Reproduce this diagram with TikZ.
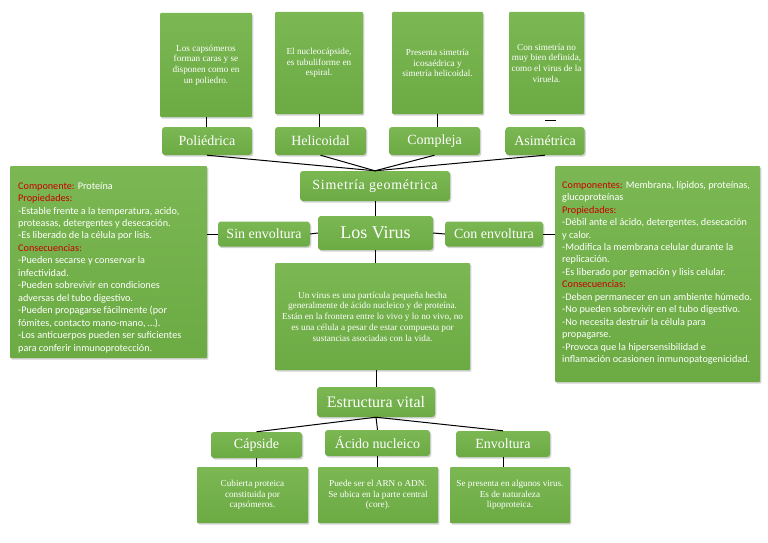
\documentclass[tikz,border=0pt]{standalone}
\usepackage{fontspec}
\setmainfont{Liberation Serif}
\newfontfamily\sidefont{Carlito}
\usetikzlibrary{shadows}
\definecolor{vgreen}{HTML}{6CAA44}
\definecolor{vgreenlight}{HTML}{7BB853}
\definecolor{vred}{HTML}{C80000}
\begin{document}
\begin{tikzpicture}[x=1pt,y=-1pt,
  gbox/.style={draw=none, top color=vgreenlight, bottom color=vgreen, text=white,
    drop shadow={shadow xshift=1.3pt, shadow yshift=-1.6pt, opacity=0.35},
    inner sep=0pt, align=center},
  lbl/.style={gbox, rounded corners=3pt, font=\fontsize{14}{16}\selectfont},
  txtbox/.style={gbox, rounded corners=1pt, font=\fontsize{9.2}{10.7}\selectfont},
  sidetxt/.style={text=white, inner sep=0pt, align=left, anchor=north west,
    font=\sidefont\fontsize{10.2}{12.45}\selectfont},
  conn/.style={draw=black, line width=1pt}]
\useasboundingbox[fill=white] (0,0) rectangle (768,543);

% top description boxes
\node[txtbox, minimum width=92pt, minimum height=104pt] (b1) at (206,65)
  {Los capsómeros\\forman caras y se\\disponen como en\\un poliedro.};
\node[txtbox, minimum width=88pt, minimum height=102pt] (b2) at (319,63)
  {El nucleocápside,\\es tubuliforme en\\espiral.};
\node[txtbox, minimum width=91pt, minimum height=102pt] (b3) at (437.5,63)
  {Presenta simetría\\icosaédrica y\\simetría helicoidal.};
\node[txtbox, minimum width=75pt, minimum height=102pt] (b4) at (546.5,63)
  {Con simetría no\\muy bien definida,\\como el virus de la\\viruela.};

% symmetry labels
\node[lbl, minimum width=90pt, minimum height=28pt] (l1) at (207,141) {Poliédrica};
\node[lbl, minimum width=91pt, minimum height=28pt] (l2) at (320.5,141) {Helicoidal};
\node[lbl, minimum width=91pt, minimum height=28pt] (l3) at (434.5,141) {Compleja};
\node[lbl, minimum width=79pt, minimum height=28pt] (l4) at (545,141) {Asimétrica};

% center column
\node[lbl, minimum width=150pt, minimum height=30pt,
  font=\fontsize{14}{16}\selectfont\addfontfeature{LetterSpace=5}] (sim) at (375,186) {Simetría geométrica};
\node[lbl, minimum width=115pt, minimum height=34pt, font=\fontsize{18}{20}\selectfont] (virus) at (375.5,233) {Los Virus};
\node[lbl, minimum width=92pt, minimum height=25pt] (sin) at (264,234) {Sin envoltura};
\node[lbl, minimum width=98pt, minimum height=25pt] (con) at (494,234) {Con envoltura};

\node[txtbox, minimum width=195pt, minimum height=107pt] (desc) at (372.5,316.5)
  {Un virus es una partícula pequeña hecha\\generalmente de ácido nucleico y de proteína.\\Están en la frontera entre lo vivo y lo no vivo, no\\es una célula a pesar de estar compuesta por\\sustancias asociadas con la vida.};

\node[lbl, minimum width=118pt, minimum height=30pt, font=\fontsize{16}{18}\selectfont] (est) at (376,402) {Estructura vital};
\node[lbl, minimum width=91pt, minimum height=26pt] (cap) at (256.5,445) {Cápside};
\node[lbl, minimum width=105pt, minimum height=26pt] (acido) at (377.5,443) {Ácido nucleico};
\node[lbl, minimum width=94pt, minimum height=26pt] (env) at (503,444) {Envoltura};

\node[txtbox, minimum width=111pt, minimum height=56pt] (c1) at (252.5,495)
  {Cubierta proteica\\constituida por\\capsómeros.};
\node[txtbox, minimum width=120pt, minimum height=56pt] (c2) at (378,495)
  {Puede ser el ARN o ADN.\\Se ubica en la parte central\\(core).};
\node[txtbox, minimum width=120pt, minimum height=56pt] (c3) at (510,495)
  {Se presenta en algunos virus.\\Es de naturaleza\\lipoproteica.};

% side boxes
\node[gbox, rounded corners=1pt, minimum width=197pt, minimum height=192pt] (left) at (108.5,262) {};
\node[sidetxt] (lefttxt) at (18,182)
  {{\color{vred}Componente:} Proteína\\
   {\color{vred}Propiedades:}\\
   -Estable frente a la temperatura, acido,\\
   proteasas, detergentes y desecación.\\
   -Es liberado de la célula por lisis.\\
   {\color{vred}Consecuencias:}\\
   -Pueden secarse y conservar la\\
   infectividad.\\
   -Pueden sobrevivir en condiciones\\
   adversas del tubo digestivo.\\
   -Pueden propagarse fácilmente (por\\
   fómites, contacto mano-mano, …).\\
   -Los anticuerpos pueden ser suficientes\\
   para conferir inmunoprotección.};

\node[gbox, rounded corners=1pt, minimum width=205pt, minimum height=216pt] (right) at (657.5,274) {};
\node[sidetxt] (righttxt) at (562,181)
  {{\color{vred}Componentes:} Membrana, lípidos, proteínas,\\
   glucoproteínas\\
   {\color{vred}Propiedades:}\\
   -Débil ante el ácido, detergentes, desecación\\
   y calor.\\
   -Modifica la membrana celular durante la\\
   replicación.\\
   -Es liberado por gemación y lisis celular.\\
   {\color{vred}Consecuencias:}\\
   -Deben permanecer en un ambiente húmedo.\\
   -No pueden sobrevivir en el tubo digestivo.\\
   -No necesita destruir la célula para\\
   propagarse.\\
   -Provoca que la hipersensibilidad e\\
   inflamación ocasionen inmunopatogenicidad.};

% connectors
\draw[conn] (b1.south) -- (b1.south |- l1.north);
\draw[conn] (b2.south) -- (b2.south |- l2.north);
\draw[conn] (b3.south) -- (b3.south |- l3.north);
\coordinate (d1) at (545,120);
\coordinate (d2) at (556,120);
\draw[conn] (d1) -- (d2);
\foreach \l in {l1,l2,l3,l4} \draw[conn] (\l.south) -- (sim.north);
\draw[conn] (sim.south) -- (sim.south |- virus.north);
\draw[conn] (sin.west) -- (sin.west -| left.east);
\draw[conn] (sin.east) -- (virus.west);
\draw[conn] (virus.east) -- (con.west);
\draw[conn] (con.east) -- (con.east -| right.west);
\draw[conn] (virus.south) -- (virus.south |- desc.north);
\draw[conn] (desc.south -| est.north) -- (est.north);
\foreach \l in {cap,acido,env} \draw[conn] (est.south) -- (\l.north);
\draw[conn] (cap.south) -- (cap.south |- c1.north);
\draw[conn] (acido.south) -- (acido.south |- c2.north);
\draw[conn] (env.south) -- (env.south |- c3.north);
\end{tikzpicture}
\end{document}
